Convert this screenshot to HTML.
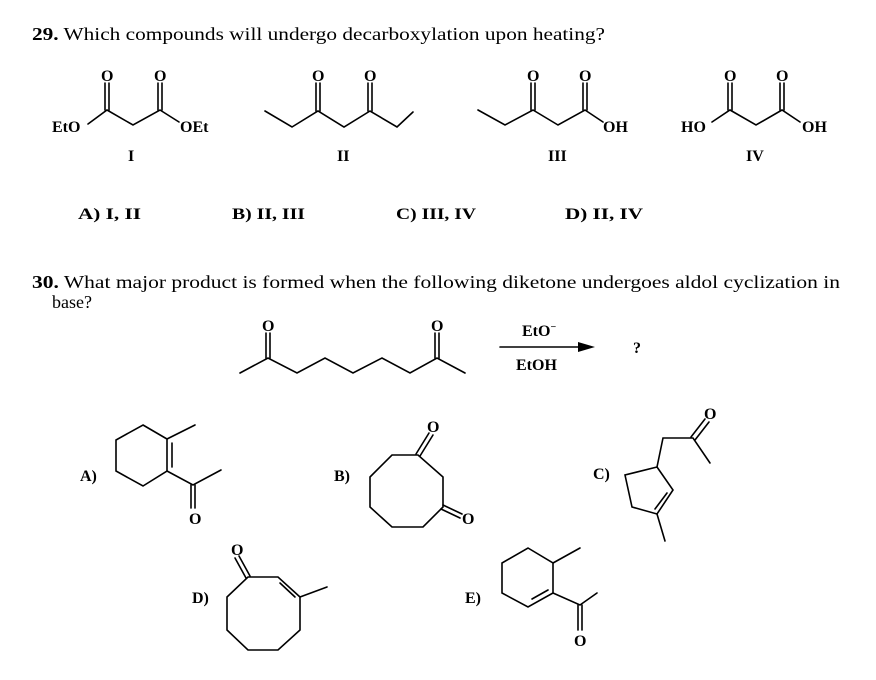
<!DOCTYPE html>
<html><head><meta charset="utf-8"><style>
html,body{margin:0;padding:0;background:#fff;}
svg{display:block;}
text{font-family:"Liberation Serif",serif;fill:#000;}
.t{font-size:18px;}
.b{font-weight:bold;}
.l{font-size:16px;font-weight:bold;}
</style></head><body>
<svg width="876" height="680" viewBox="0 0 876 680" xmlns="http://www.w3.org/2000/svg">
<g class="t">
<text x="32" y="40" textLength="573" lengthAdjust="spacingAndGlyphs"><tspan class="b">29.</tspan> Which compounds will undergo decarboxylation upon heating?</text>
<text x="32" y="288" textLength="808" lengthAdjust="spacingAndGlyphs"><tspan class="b">30.</tspan> What major product is formed when the following diketone undergoes aldol cyclization in</text>
<text x="52" y="308">base?</text>
</g>
<g stroke="#000" stroke-width="1.6" fill="none" stroke-linecap="round">
<!-- I -->
<polyline points="88,124 107,110 133,125 160,110 179,122"/>
<line x1="105" y1="110" x2="105" y2="83"/><line x1="109" y1="110" x2="109" y2="83"/>
<line x1="158" y1="110" x2="158" y2="83"/><line x1="162" y1="110" x2="162" y2="83"/>
<!-- II -->
<polyline points="265,111 292,127 318,111 344,127 370,111 397,127 413,112"/>
<line x1="316" y1="111" x2="316" y2="83"/><line x1="320" y1="111" x2="320" y2="83"/>
<line x1="368" y1="111" x2="368" y2="83"/><line x1="372" y1="111" x2="372" y2="83"/>
<!-- III -->
<polyline points="478,110 505,125 533,110 558,125 585,110 603,122"/>
<line x1="531" y1="110" x2="531" y2="83"/><line x1="535" y1="110" x2="535" y2="83"/>
<line x1="583" y1="110" x2="583" y2="83"/><line x1="587" y1="110" x2="587" y2="83"/>
<!-- IV -->
<polyline points="712,122 730,110 756,125 782,110 800,122"/>
<line x1="728" y1="110" x2="728" y2="83"/><line x1="732" y1="110" x2="732" y2="83"/>
<line x1="780" y1="110" x2="780" y2="83"/><line x1="784" y1="110" x2="784" y2="83"/>
<!-- diketone -->
<polyline points="240,373 268,358 297,373 325,358 353,373 382,358 410,373 437,358 465,373"/>
<line x1="266" y1="358" x2="266" y2="333"/><line x1="270" y1="358" x2="270" y2="333"/>
<line x1="435" y1="358" x2="435" y2="333"/><line x1="439" y1="358" x2="439" y2="333"/>
<line x1="500" y1="347" x2="580" y2="347"/>
<!-- A -->
<polygon points="143,425 167,439 167,471 143,486 116,471 116,440"/>
<line x1="172" y1="443" x2="172" y2="467"/>
<line x1="167" y1="439" x2="195" y2="425"/>
<polyline points="167,471 193,485 221,470"/>
<line x1="191" y1="485" x2="191" y2="508"/><line x1="195" y1="485" x2="195" y2="508"/>
<!-- B -->
<polygon points="392,455 418,455 443,477 443,507 423,527 392,527 370,507 370,477"/>
<line x1="416" y1="454" x2="429" y2="433"/><line x1="420" y1="456" x2="433" y2="435"/>
<line x1="443" y1="505" x2="462" y2="514"/><line x1="441" y1="509" x2="460" y2="518"/>
<!-- C -->
<polygon points="657,467 673,490 657,514 632,507 625,475"/>
<line x1="667" y1="493" x2="655" y2="509"/>
<line x1="657" y1="514" x2="665" y2="541"/>
<polyline points="657,467 663,438 693,438 710,463"/>
<line x1="691" y1="437" x2="705" y2="419"/><line x1="695" y1="440" x2="709" y2="422"/>
<!-- D -->
<polygon points="248,577 278,577 300,597 300,630 278,650 248,650 227,630 227,597"/>
<line x1="280" y1="583" x2="295" y2="597"/>
<line x1="300" y1="597" x2="327" y2="587"/>
<line x1="246" y1="578" x2="235" y2="558"/><line x1="250" y1="576" x2="239" y2="556"/>
<!-- E -->
<polygon points="528,548 553,563 553,593 528,607 502,593 502,563"/>
<line x1="548" y1="590" x2="532" y2="599"/>
<line x1="553" y1="563" x2="580" y2="548"/>
<polyline points="553,593 580,605 597,593"/>
<line x1="578" y1="605" x2="578" y2="630"/><line x1="582" y1="605" x2="582" y2="630"/>
</g>
<polygon points="595,347 578,342 578,352" fill="#000"/>
<g class="l">
<text x="52" y="132">EtO</text><text x="180" y="132">OEt</text>
<text x="101" y="81">O</text><text x="154" y="81">O</text>
<text x="128" y="161">I</text>
<text x="312" y="81">O</text><text x="364" y="81">O</text>
<text x="337" y="161">II</text>
<text x="527" y="81">O</text><text x="579" y="81">O</text>
<text x="603" y="132">OH</text>
<text x="548" y="161">III</text>
<text x="724" y="81">O</text><text x="776" y="81">O</text>
<text x="681" y="132">HO</text><text x="802" y="132">OH</text>
<text x="746" y="161">IV</text>
<text x="78" y="219" textLength="63" lengthAdjust="spacingAndGlyphs">A) I, II</text>
<text x="232" y="219" textLength="73" lengthAdjust="spacingAndGlyphs">B) II, III</text>
<text x="396" y="219" textLength="80" lengthAdjust="spacingAndGlyphs">C) III, IV</text>
<text x="565" y="219" textLength="78" lengthAdjust="spacingAndGlyphs">D) II, IV</text>
<text x="262" y="331">O</text><text x="431" y="331">O</text>
<text x="522" y="336">EtO<tspan font-size="10" dy="-6">−</tspan></text>
<text x="516" y="370">EtOH</text>
<text x="633" y="353">?</text>
<text x="80" y="481">A)</text><text x="189" y="524">O</text>
<text x="334" y="481">B)</text><text x="427" y="432">O</text><text x="462" y="524">O</text>
<text x="593" y="479">C)</text><text x="704" y="419">O</text>
<text x="192" y="603">D)</text><text x="231" y="555">O</text>
<text x="465" y="603">E)</text><text x="574" y="646">O</text>
</g>
</svg>
</body></html>
